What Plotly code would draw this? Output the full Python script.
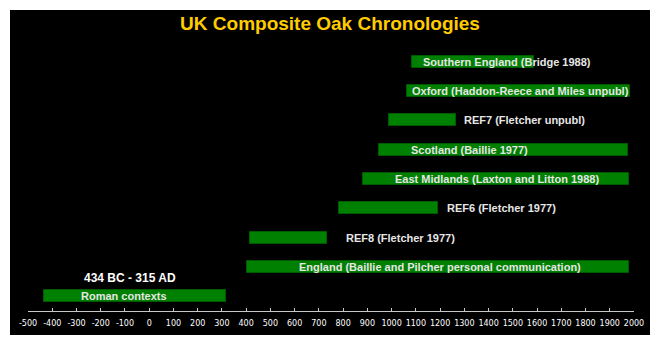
import plotly.graph_objects as go

# ---- data (top row first) ----
names = [
    "Southern England (Bridge 1988)",
    "Oxford (Haddon-Reece and Miles unpubl)",
    "REF7 (Fletcher unpubl)",
    "Scotland (Baillie 1977)",
    "East Midlands (Laxton and Litton 1988)",
    "REF6 (Fletcher 1977)",
    "REF8 (Fletcher 1977)",
    "England (Baillie and Pilcher personal communication)",
    "Roman contexts",
]
starts = [1083, 1062, 990, 946, 882, 781, 416, 404, -434]
ends = [1589, 1985, 1265, 1975, 1981, 1193, 735, 1981, 315]

# label placement (year where label sits) and anchor
label_x = [1474, 1532, 1289, 1322, 1433, 1222, 805, 1198, -106]
label_anchor = ["center", "center", "left", "center", "center", "left", "left", "center", "center"]

span_label = "434 BC - 315 AD"
span_label_x = -81

tick_vals = list(range(-500, 2001, 100))

n = len(names)
rows = [n - 1 - i for i in range(n)]  # top row highest index

fig = go.Figure()
fig.add_trace(go.Bar(
    y=rows,
    x=[e - s for s, e in zip(starts, ends)],
    base=starts,
    orientation="h",
    width=0.41,
    marker=dict(color="#008000", line=dict(color="#005a00", width=1)),
    hoverinfo="skip",
    showlegend=False,
))

font_family = "Arial, Liberation Sans, sans-serif"
annotations = []
for r, lx, anc, name in zip(rows, label_x, label_anchor, names):
    annotations.append(dict(
        x=lx, y=r, xref="x", yref="y", text="<b>" + name + "</b>",
        showarrow=False, xanchor=anc, yanchor="middle",
        font=dict(family=font_family, size=11, color="#E6E6E6"),
    ))
annotations.append(dict(
    x=span_label_x, y=0.63, xref="x", yref="y", text="<b>" + span_label + "</b>",
    showarrow=False, xanchor="center", yanchor="middle",
    font=dict(family=font_family, size=12, color="#FFFFFF"),
))

# plot area geometry
L, R, T, B = 28, 26, 47, 32
W, H = 660, 343
pw, ph = W - L - R, H - T - B

def px_to_paper_x(px):
    return (px - L) / pw

def py_to_paper_y(py):
    return (H - B - py) / ph

fig.update_layout(
    width=W, height=H,
    margin=dict(l=L, r=R, t=T, b=B, pad=0),
    paper_bgcolor="white",
    plot_bgcolor="black",
    title=dict(
        text="<b>UK Composite Oak Chronologies</b>",
        x=0.5, xanchor="center", y=1 - 23 / H, yanchor="middle", yref="container",
        font=dict(family=font_family, size=19, color="#FFCC00"),
    ),
    xaxis=dict(
        range=[-500, 2000], tickvals=tick_vals, ticktext=[str(v) for v in tick_vals],
        showgrid=False, zeroline=False, showline=True, linecolor="#C8C8C8", linewidth=1,
        ticks="inside", ticklen=3, tickcolor="#C8C8C8",
        ticklabelstandoff=4,
        tickfont=dict(family="DejaVu Sans, sans-serif", size=8, color="white"),
        fixedrange=True,
    ),
    yaxis=dict(
        range=[-0.5, n - 0.5], showgrid=False, zeroline=False, showline=False,
        showticklabels=False, ticks="", fixedrange=True,
    ),
    shapes=[dict(
        type="rect", xref="paper", yref="paper", layer="below",
        x0=px_to_paper_x(10), x1=px_to_paper_x(650),
        y0=py_to_paper_y(335), y1=py_to_paper_y(10),
        fillcolor="black", line=dict(width=0),
    )],
    annotations=annotations,
    bargap=0,
)

fig.write_html("out.html")
